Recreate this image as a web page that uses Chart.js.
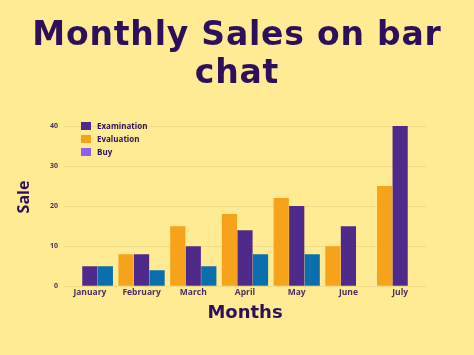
<!DOCTYPE html>
<html>
<head>
<meta charset="utf-8">
<script src="https://cdn.jsdelivr.net/npm/chart.js@4.4.1/dist/chart.umd.min.js"></script>
<style>
html,body{margin:0;padding:0;background:#feeb94;}
#wrap{width:474px;height:355px;position:relative;overflow:hidden;}
#title{position:absolute;left:0;top:15px;width:474px;text-align:center;
  font-family:"DejaVu Sans",sans-serif;font-weight:bold;font-size:33px;line-height:38px;
  letter-spacing:0.8px;color:#2d0f5a;}
#ytitle{position:absolute;left:2.5px;top:187px;width:40px;height:20px;line-height:20px;text-align:center;
  font-family:"Open Sans",sans-serif;font-weight:bold;font-size:16px;color:#2d0f5a;
  transform:rotate(-90deg);transform-origin:50% 50%;}
canvas{position:absolute;left:0;top:0;}
</style>
</head>
<body>
<div id="wrap">
<canvas id="c" width="474" height="355"></canvas>
<div id="title">Monthly Sales on bar<br>chat</div>
<div id="ytitle">Sale</div>
</div>
<script>
const months = ['January','February','March','April','May','June','July'];
const evaluation = [null, 8, 15, 18, 22, 10, 25];
const examination = [5, 8, 10, 14, 20, 15, 40];
const buy = [5, 4, 5, 8, 8, null, null];
const yTicks = [0, 10, 20, 30, 40];
const legendOrder = ['Examination', 'Evaluation', 'Buy'];

const DARK = '#2d0f5a';
const legendColors = {Examination:'#4f2a8a', Evaluation:'#f7a21b', Buy:'#8b5cf6'};

const insideLegend = {
  id:'insideLegend',
  afterDraw(chart){
    const ctx = chart.ctx;
    const x0 = chart.chartArea.left + 17;
    let y0 = chart.chartArea.top - 4;
    ctx.save();
    ctx.font = 'bold 8px "Open Sans", sans-serif';
    ctx.textBaseline = 'middle';
    legendOrder.forEach((name,i)=>{
      const y = y0 + i*13;
      ctx.fillStyle = legendColors[name];
      ctx.fillRect(x0, y, 10, 8);
      ctx.fillStyle = DARK;
      ctx.fillText(name, x0 + 16, y + 4.5);
    });
    ctx.restore();
  }
};

new Chart(document.getElementById('c'), {
  type:'bar',
  data:{
    labels: months,
    datasets:[
      {label:'Evaluation', data: evaluation, backgroundColor:'#f7a21b'},
      {label:'Examination', data: examination, backgroundColor:'#4f2a8a'},
      {label:'Buy', data: buy, backgroundColor:'#0b6fae'}
    ]
  },
  options:{
    responsive:false,
    animation:false,
    categoryPercentage:0.9,
    barPercentage:0.98,
    layout:{padding:{left:10, right:48, top:126, bottom:27}},
    plugins:{
      legend:{display:false},
      tooltip:{enabled:false},
      title:{display:false}
    },
    scales:{
      x:{
        grid:{display:false, drawTicks:false},
        border:{display:false},
        ticks:{color:'#4a3060', font:{family:'"Open Sans", sans-serif', size:8.5, weight:'bold'}, padding:1},
        title:{display:true, text:'Months', color:DARK, font:{family:'"DejaVu Sans", sans-serif', size:18, weight:'bold'}, padding:{top:4}}
      },
      y:{
        min:0, max:40,
        afterBuildTicks(axis){ axis.ticks = yTicks.map(v=>({value:v})); },
        afterFit(axis){ axis.width = 54; },
        grid:{color:'rgba(220,190,110,0.35)', drawTicks:false},
        border:{display:false},
        ticks:{color:'#4a3060', font:{family:'"Open Sans", sans-serif', size:7, weight:'bold'}, padding:6},
        title:{display:false}
      }
    }
  },
  plugins:[insideLegend]
});
</script>
</body>
</html>
